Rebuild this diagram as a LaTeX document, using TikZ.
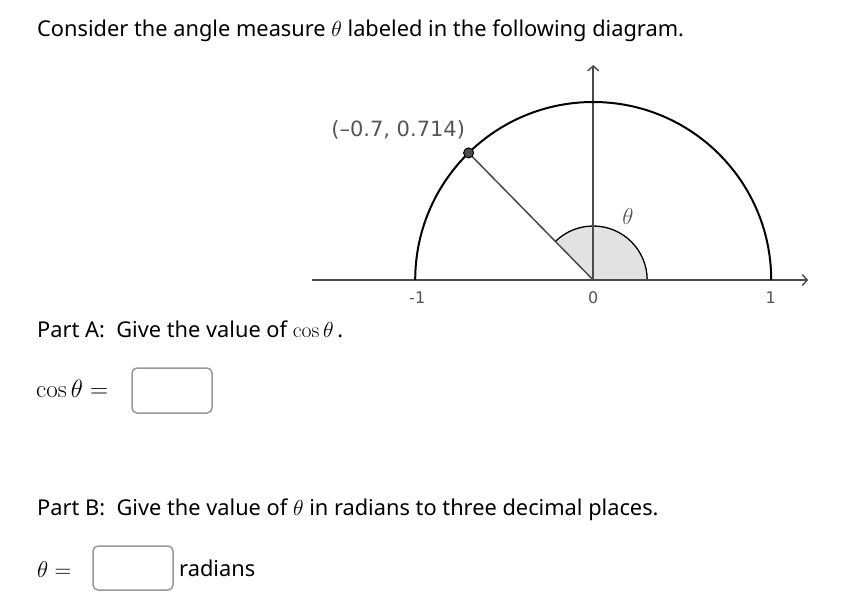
\RequirePackage{fix-cm}
\documentclass[tikz,border=0pt]{standalone}
\usepackage[no-math]{fontspec}
\setmainfont{Noto Sans}
\newfontfamily\dvs{DejaVu Sans}
\usetikzlibrary{arrows.meta}
\definecolor{axisgray}{HTML}{4A4A4A}
\definecolor{labelgray}{HTML}{555555}
\definecolor{wedgegray}{HTML}{E2E2E2}
\definecolor{ptgray}{HTML}{4D4D4D}
\definecolor{boxgray}{HTML}{999999}
\tikzset{
  axisline/.style={draw=axisgray, line width=1.6pt, -{Straight Barb[length=5pt,width=11pt,line width=1.4pt]}},
  tick/.style={text=labelgray, font=\dvs\fontsize{16}{19}\selectfont, inner sep=0pt},
  txt/.style={anchor=base west, inner sep=0pt, font=\fontsize{21.8}{26}\selectfont},
  ansbox/.style={draw=boxgray, line width=1.5pt, rounded corners=5pt}
}
\begin{document}
\begin{tikzpicture}[x=1pt,y=-1pt]
\useasboundingbox (0,0) rectangle (856,606);
\fill[white] (0,0) rectangle (856,606);
% texts
\node[txt] (title) at (37,36) {Consider the angle measure $\theta$ labeled in the following diagram.};
\node[txt] (partA) at (37,337) {Part A:\ \ Give the value of $\cos\theta$\,.};
\node[txt, font=\fontsize{25}{29}\selectfont] (cosEq) at (36,397) {$\cos\theta =$};
\draw[ansbox] (132,368) rectangle (212,413);
\node[txt] (partB) at (37,515) {Part B:\ \ Give the value of $\theta$ in radians to three decimal places.};
\node[txt, font=\fontsize{23}{27}\selectfont] (thEq) at (37,577) {$\theta =$};
\draw[ansbox] (93,546) rectangle (173,590);
\node[txt] (rad) at (179,576) {radians};
% diagram
\begin{scope}[shift={(593.2,280)}, y=1pt]
  \coordinate (O) at (0,0);
  \coordinate (xl) at (-281.2,0);
  \coordinate (xr) at (215,0);
  \coordinate (yt) at (0,215);
  \coordinate (P) at (134.43:178);
  \coordinate (W) at (54,0);
  \fill[wedgegray] (O) -- (W) arc[start angle=0,end angle=134.43,radius=54] -- cycle;
  \draw[black, line width=1.3pt] (W) arc[start angle=0,end angle=134.43,radius=54];
  \draw[axisline] (xl) -- (xr);
  \draw[axisline] (O) -- (yt);
  \draw[black, line width=2pt] (-178,0) arc[start angle=180,end angle=0,radius=178];
  \draw[axisgray, line width=1.5pt] (O) -- (P);
  \node[circle, fill=ptgray, draw=black, line width=1pt, inner sep=0pt, minimum size=10pt] (Pt) at (P) {};
  \node[text=labelgray, font=\dvs\fontsize{21}{25}\selectfont, inner sep=0pt] (Plab) at (-195,150) {(–0.7, 0.714)};
  \node[text=labelgray, font=\fontsize{23}{27}\selectfont, inner sep=0pt] (th) at (34.8,63) {$\theta$};
  \node[tick] (tm1) at (-176,-18) {-1};
  \node[tick] (t0) at (0,-18) {0};
  \node[tick] (t1) at (177.5,-18) {1};
\end{scope}
\end{tikzpicture}
\end{document}
